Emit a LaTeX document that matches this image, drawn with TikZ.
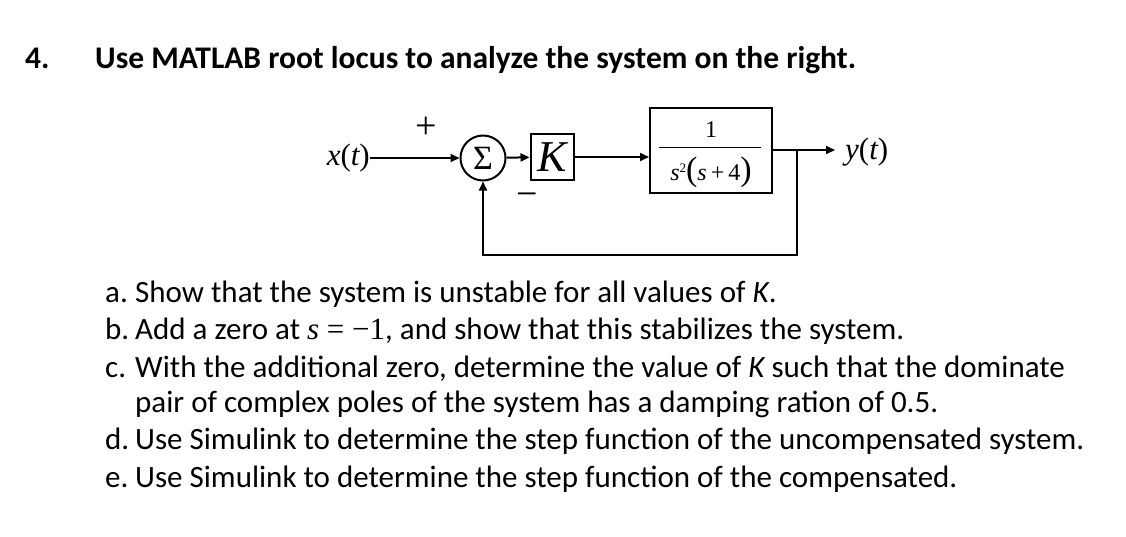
\documentclass[tikz,border=0pt]{standalone}
\usepackage{fontspec}
\setmainfont{Liberation Serif}
\newfontfamily\calfont{Carlito}
\usetikzlibrary{arrows.meta}
\begin{document}
\begin{tikzpicture}[x=1pt,y=-1pt,
  blk/.style={draw,line width=2pt,inner sep=0pt},
  sig/.style={line width=2pt,-{Triangle[length=9pt,width=8pt]}},
  item/.style={anchor=base west,inner sep=0pt,font=\calfont\fontsize{31}{34}\selectfont},
  lbl/.style={inner sep=0pt,font=\fontsize{31}{34}\selectfont}]
\useasboundingbox (0,0) rectangle (1126,536);
\node[item,font=\calfont\bfseries\fontsize{31.5}{34}\selectfont] (n4) at (25,68) {4.};
\node[item,font=\calfont\bfseries\fontsize{31.5}{34}\selectfont] (title) at (95,68) {Use MATLAB root locus to analyze the system on the right.};
% diagram
\node[lbl,anchor=east] (x) at (370,158) {\itshape x\upshape(\itshape t\upshape)};
\node[blk,circle,minimum size=45pt,font=\fontsize{34}{34}\selectfont] (sum) at (483,158) {Σ};
\node[blk,minimum width=43pt,minimum height=46pt,font=\itshape\fontsize{44}{44}\selectfont] (k) at (552,157) {K};
\node[blk,minimum width=122pt,minimum height=85pt] (g) at (711,150) {};
\node[inner sep=0pt,font=\fontsize{24}{24}\selectfont] (num) at (711,130) {1};
\draw[line width=0.8pt] (g.west)++(10,-3) coordinate (fl) -- ++(102,0) coordinate (fr);
\node[inner sep=0pt,font=\fontsize{24}{24}\selectfont] (den) at (711,172) {\itshape s\upshape\raisebox{8pt}{\fontsize{13}{13}\selectfont 2}{\fontsize{34}{34}\selectfont(}\itshape s\upshape\,+\,4{\fontsize{34}{34}\selectfont)}};
\coordinate (br) at (797,150);
\node[lbl,anchor=west] (y) at (845,152) {\itshape y\upshape(\itshape t\upshape)};
\coordinate (fb) at (797,255);
\coordinate (fbl) at (483,255);
\draw[sig] (x) -- (sum);
\draw[sig] (sum) -- (k);
\draw[sig] (k.east) -- (g.west|-k.east);
\draw[sig] (g.east|-br) -- (835,150);
\draw[sig] (br) -- (fb) -- (fbl) -- (sum.south);
\node[lbl,font=\fontsize{38}{38}\selectfont] (plus) at (426,128) {+};
\node[lbl,font=\fontsize{38}{38}\selectfont] (minus) at (527,200) {−};
% items
\node[item] (a1) at (105,302) {a.};
\node[item] (a2) at (135,302) {Show that the system is unstable for all values of \itshape K\upshape.};
\node[item] (b1) at (105,339) {b.};
\node[item] (b2) at (135,339) {Add a zero at {\rmfamily\itshape s\upshape\ =\ −1}, and show that this stabilizes the system.};
\node[item] (c1) at (105,377) {c.};
\node[item] (c2) at (135,377) {With the additional zero, determine the value of \itshape K\upshape\ such that the dominate};
\node[item] (c3) at (135,412) {pair of complex poles of the system has a damping ration of 0.5.};
\node[item] (d1) at (105,449) {d.};
\node[item] (d2) at (135,449) {Use Simulink to determine the step function of the uncompensated system.};
\node[item] (e1) at (105,487) {e.};
\node[item] (e2) at (135,487) {Use Simulink to determine the step function of the compensated.};
\end{tikzpicture}
\end{document}
